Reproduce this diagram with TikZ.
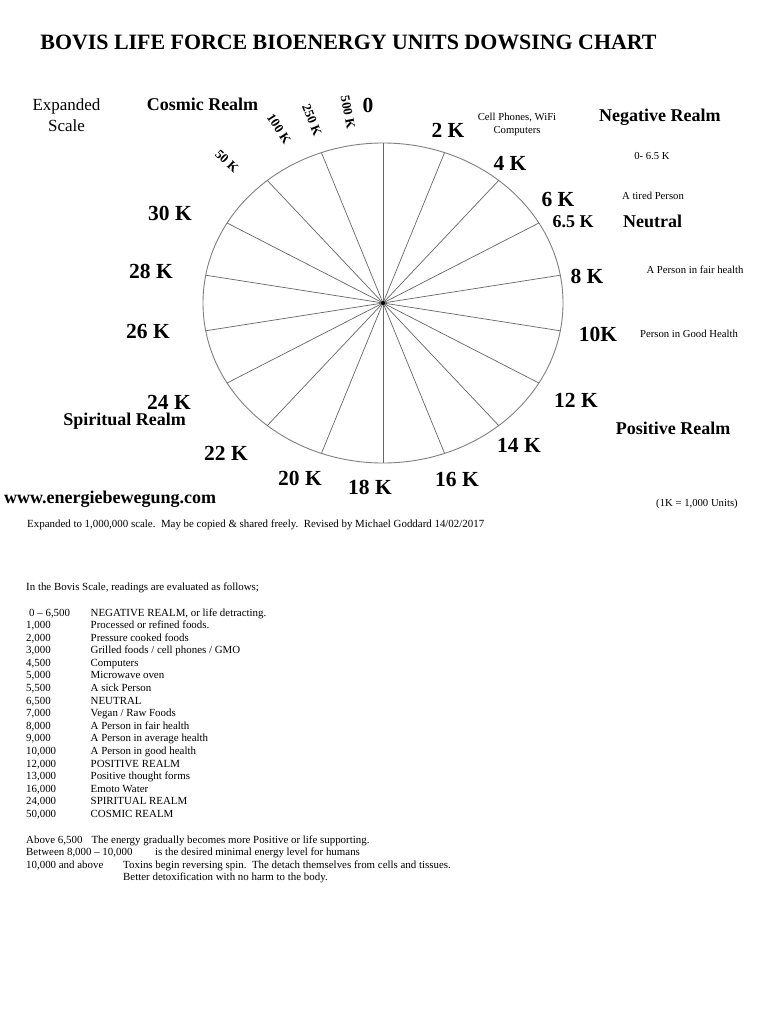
\documentclass[tikz,border=0pt]{standalone}
\usepackage{fontspec}
\setmainfont{Liberation Serif}
\begin{document}
\begin{tikzpicture}[x=1pt,y=-1pt,
  klabel/.style={font=\fontsize{21.5}{24}\selectfont\bfseries, inner sep=0pt, anchor=base},
  realm/.style={font=\fontsize{18}{20}\selectfont\bfseries, inner sep=0pt, anchor=base},
  note/.style={font=\fontsize{10.7}{12}\selectfont, inner sep=0pt, anchor=base},
  rotlabel/.style={font=\fontsize{13}{15}\selectfont\bfseries, inner sep=0pt},
  body/.style={font=\fontsize{10.9}{12}\selectfont, inner sep=0pt, anchor=base west},
  rim/.style={draw=black!50, line width=0.9pt},
  spoke/.style={draw=black!60, line width=0.7pt}]
\useasboundingbox (0,0) rectangle (768,1024);
\fill[white] (0,0) rectangle (768,1024);

% title
\node[font=\fontsize{21.9}{25}\selectfont\bfseries, inner sep=0pt, anchor=base] (title) at (348.5,50) {BOVIS LIFE FORCE BIOENERGY UNITS DOWSING CHART};

% wheel
\coordinate (c) at (383,303);
\draw[rim] (c) ellipse (180pt and 160pt);
\foreach \a in {90,70,...,-250} {
  \draw[spoke] (c) -- ++(\a:180pt and 160pt);
}
\fill[black] (c) circle (2pt);

% left heading
\node[font=\fontsize{17}{21}\selectfont, inner sep=0pt, anchor=base] (exp) at (66.5,111) {Expanded};
\node[font=\fontsize{17}{21}\selectfont, inner sep=0pt, anchor=base] (scale) at (66.5,132) {Scale};
\node[realm] (cosmic) at (202.5,111) {Cosmic Realm};

% rotated expanded-scale labels
\node[rotlabel, rotate=-79] (k500) at (348,112) {500 K};
\node[rotlabel, rotate=-68] (k250) at (312,120) {250 K};
\node[rotlabel, rotate=-57] (k100) at (279,129) {100 K};
\node[rotlabel, rotate=-43] (k50) at (227,161) {50 K};

% right side
\node[klabel] (k0) at (368,113) {0};
\node[klabel] (k2) at (448,138) {2 K};
\node[note] (cell) at (517,121) {Cell Phones, WiFi};
\node[note] (comp) at (517,134) {Computers};
\node[realm, anchor=base west] (neg) at (599,122) {Negative Realm};
\node[klabel] (k4) at (510,171) {4 K};
\node[note] (range) at (652,160) {0- 6.5 K};
\node[klabel] (k6) at (558,207) {6 K};
\node[note] (tired) at (653,200) {A tired Person};
\node[realm] (k65) at (573,227) {6.5 K};
\node[realm, anchor=base west] (neutral) at (623,227) {Neutral};
\node[klabel] (k8) at (587,283) {8 K};
\node[note] (fair) at (695,273) {A Person in fair health};
\node[klabel] (k10) at (598,341) {10K};
\node[note] (good) at (689,337) {Person in Good Health};
\node[klabel] (k12) at (576,407) {12 K};
\node[realm] (pos) at (673,434) {Positive Realm};
\node[klabel] (k14) at (519,452) {14 K};
\node[klabel] (k16) at (457,486) {16 K};
\node[klabel] (k18) at (370,494) {18 K};
\node[klabel] (k20) at (300,485) {20 K};
\node[klabel] (k22) at (226,460) {22 K};
\node[klabel] (k24) at (169,409) {24 K};
\node[realm] (spirit) at (124.5,425) {Spiritual Realm};
\node[klabel] (k26) at (148,338) {26 K};
\node[klabel] (k28) at (151,278) {28 K};
\node[klabel] (k30) at (170,221) {30 K};

% footer of chart
\node[realm, anchor=base west] (www) at (4,503) {www.energiebewegung.com};
\node[note] (units) at (697,506) {(1K = 1,000 Units)};
\node[note, anchor=base west, font=\fontsize{10.9}{12}\selectfont] (credit) at (27,527) {Expanded to 1,000,000 scale.\ \ May be copied \& shared freely.\ \ Revised by Michael Goddard 14/02/2017};

% table
\node[body] (intro) at (26,590) {In the Bovis Scale, readings are evaluated as follows;};
\node[body] (n0) at (29,616) {0 – 6,500};      \node[body] (d0) at (90.5,616) {NEGATIVE REALM, or life detracting.};
\node[body] (n1) at (26,628.6) {1,000};        \node[body] (d1) at (90.5,628.6) {Processed or refined foods.};
\node[body] (n2) at (26,641.2) {2,000};        \node[body] (d2) at (90.5,641.2) {Pressure cooked foods};
\node[body] (n3) at (26,653.7) {3,000};        \node[body] (d3) at (90.5,653.7) {Grilled foods / cell phones / GMO};
\node[body] (n4) at (26,666.3) {4,500};        \node[body] (d4) at (90.5,666.3) {Computers};
\node[body] (n5) at (26,678.9) {5,000};        \node[body] (d5) at (90.5,678.9) {Microwave oven};
\node[body] (n6) at (26,691.5) {5,500};        \node[body] (d6) at (90.5,691.5) {A sick Person};
\node[body] (n7) at (26,704.1) {6,500};        \node[body] (d7) at (90.5,704.1) {NEUTRAL};
\node[body] (n8) at (26,716.6) {7,000};        \node[body] (d8) at (90.5,716.6) {Vegan / Raw Foods};
\node[body] (n9) at (26,729.2) {8,000};        \node[body] (d9) at (90.5,729.2) {A Person in fair health};
\node[body] (n10) at (26,741.8) {9,000};       \node[body] (d10) at (90.5,741.8) {A Person in average health};
\node[body] (n11) at (26,754.4) {10,000};      \node[body] (d11) at (90.5,754.4) {A Person in good health};
\node[body] (n12) at (26,767) {12,000};        \node[body] (d12) at (90.5,767) {POSITIVE REALM};
\node[body] (n13) at (26,779.5) {13,000};      \node[body] (d13) at (90.5,779.5) {Positive thought forms};
\node[body] (n14) at (26,792.1) {16,000};      \node[body] (d14) at (90.5,792.1) {Emoto Water};
\node[body] (n15) at (26,804.7) {24,000};      \node[body] (d15) at (90.5,804.7) {SPIRITUAL REALM};
\node[body] (n16) at (26,817.3) {50,000};      \node[body] (d16) at (90.5,817.3) {COSMIC REALM};

\node[body] (a1) at (26,843) {Above 6,500};
\node[body] (a1d) at (91.3,843) {The energy gradually becomes more Positive or life supporting.};
\node[body] (a2) at (26,855.5) {Between 8,000 – 10,000};
\node[body] (a2d) at (155,855.5) {is the desired minimal energy level for humans};
\node[body] (a3) at (26,868) {10,000 and above};
\node[body] (a3d) at (123,868) {Toxins begin reversing spin.\ \ The detach themselves from cells and tissues.};
\node[body] (a4d) at (123,880.5) {Better detoxification with no harm to the body.};
\end{tikzpicture}
\end{document}
